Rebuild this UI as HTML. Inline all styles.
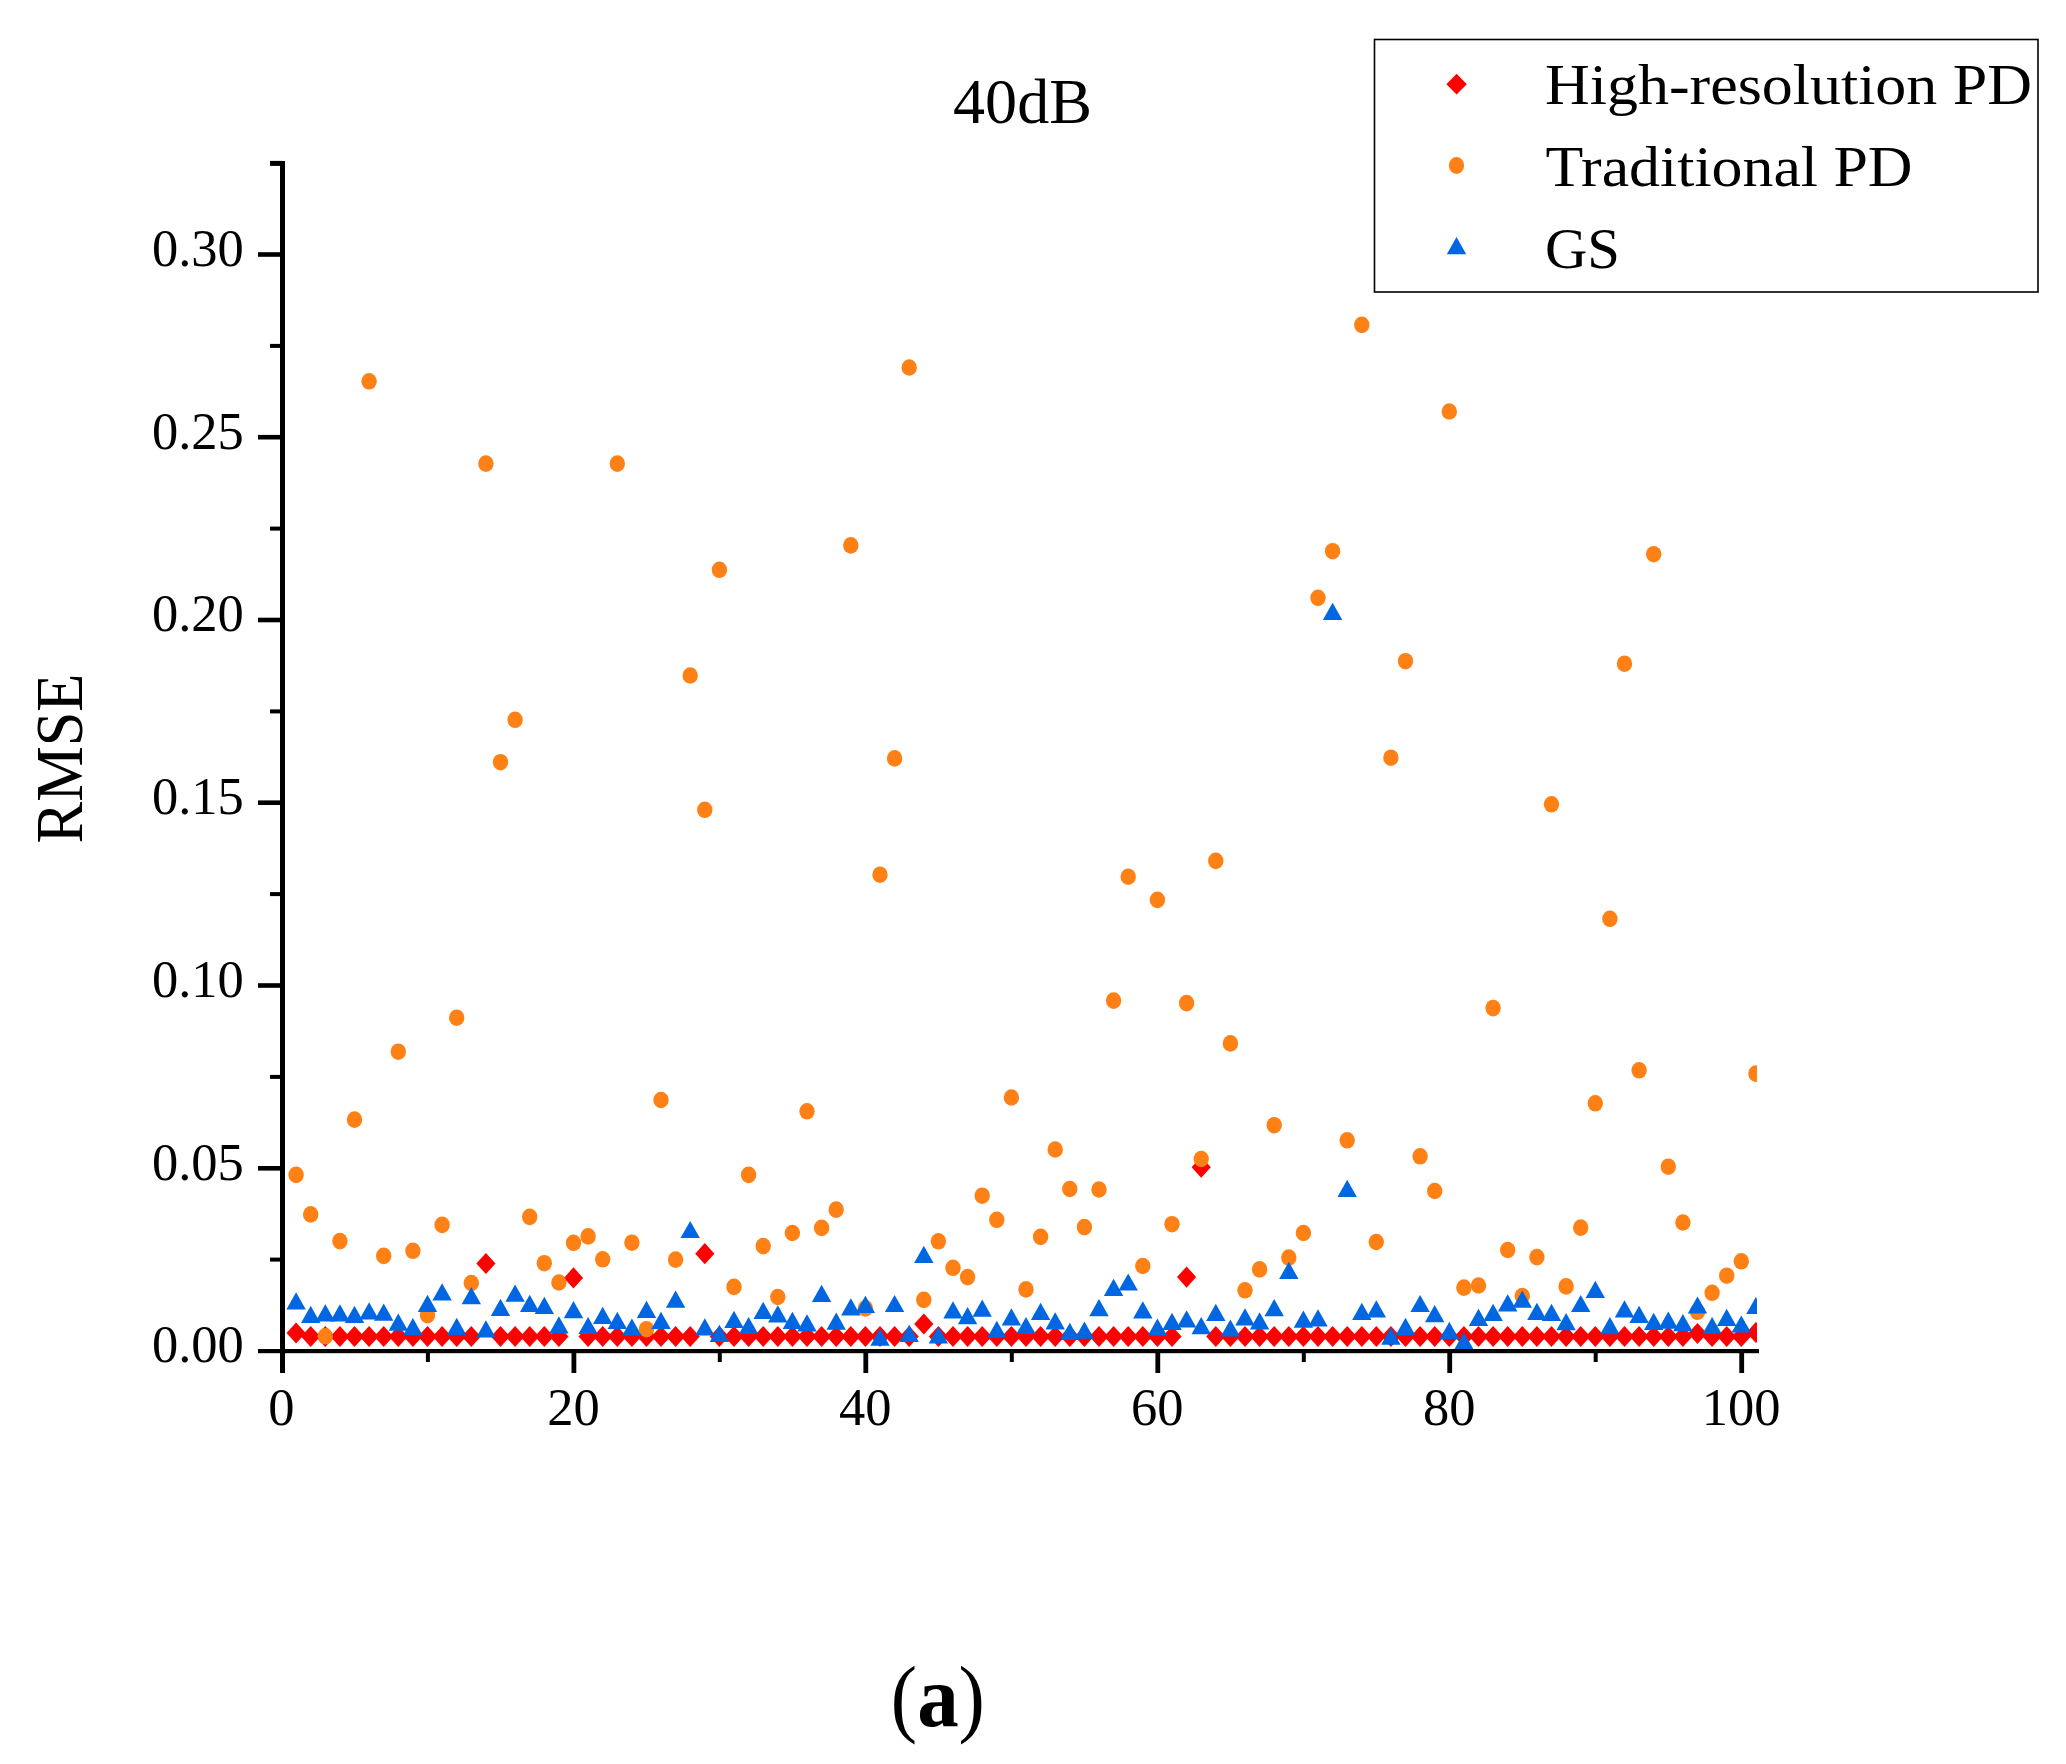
<!DOCTYPE html>
<html lang="en"><head><meta charset="utf-8"><title>40dB RMSE scatter</title>
<style>html,body{margin:0;padding:0;background:#fff}body{width:2066px;height:1764px;overflow:hidden}svg{display:block}text{font-family:"Liberation Serif",serif;fill:#000}</style></head><body>
<svg width="2066" height="1764" viewBox="0 0 2066 1764">
<rect width="2066" height="1764" fill="#fff"/>
<defs><clipPath id="plot"><rect x="282" y="150" width="1475" height="1215"/></clipPath></defs>
<g clip-path="url(#plot)"><g fill="#FF0000">
<path d="M286.5 1333.0L296.1 1322.4L305.7 1333.0L296.1 1343.6Z"/>
<path d="M301.1 1336.5L310.7 1325.9L320.3 1336.5L310.7 1347.1Z"/>
<path d="M315.7 1336.5L325.3 1325.9L334.9 1336.5L325.3 1347.1Z"/>
<path d="M330.3 1336.5L339.9 1325.9L349.5 1336.5L339.9 1347.1Z"/>
<path d="M344.9 1336.5L354.5 1325.9L364.1 1336.5L354.5 1347.1Z"/>
<path d="M359.5 1336.5L369.1 1325.9L378.7 1336.5L369.1 1347.1Z"/>
<path d="M374.1 1336.5L383.7 1325.9L393.3 1336.5L383.7 1347.1Z"/>
<path d="M388.7 1336.5L398.3 1325.9L407.9 1336.5L398.3 1347.1Z"/>
<path d="M403.3 1336.5L412.9 1325.9L422.5 1336.5L412.9 1347.1Z"/>
<path d="M417.9 1336.5L427.5 1325.9L437.1 1336.5L427.5 1347.1Z"/>
<path d="M432.5 1336.5L442.1 1325.9L451.7 1336.5L442.1 1347.1Z"/>
<path d="M447.1 1336.5L456.7 1325.9L466.3 1336.5L456.7 1347.1Z"/>
<path d="M461.7 1336.5L471.3 1325.9L480.9 1336.5L471.3 1347.1Z"/>
<path d="M476.3 1263.5L485.9 1252.9L495.5 1263.5L485.9 1274.1Z"/>
<path d="M490.9 1336.5L500.5 1325.9L510.1 1336.5L500.5 1347.1Z"/>
<path d="M505.5 1336.5L515.1 1325.9L524.7 1336.5L515.1 1347.1Z"/>
<path d="M520.1 1336.5L529.7 1325.9L539.3 1336.5L529.7 1347.1Z"/>
<path d="M534.7 1336.5L544.3 1325.9L553.9 1336.5L544.3 1347.1Z"/>
<path d="M549.3 1336.5L558.9 1325.9L568.5 1336.5L558.9 1347.1Z"/>
<path d="M563.9 1277.9L573.5 1267.3L583.1 1277.9L573.5 1288.5Z"/>
<path d="M578.5 1336.5L588.1 1325.9L597.7 1336.5L588.1 1347.1Z"/>
<path d="M593.1 1336.5L602.7 1325.9L612.3 1336.5L602.7 1347.1Z"/>
<path d="M607.7 1336.5L617.3 1325.9L626.9 1336.5L617.3 1347.1Z"/>
<path d="M622.3 1336.5L631.9 1325.9L641.5 1336.5L631.9 1347.1Z"/>
<path d="M636.9 1336.5L646.5 1325.9L656.1 1336.5L646.5 1347.1Z"/>
<path d="M651.4 1336.5L661.0 1325.9L670.6 1336.5L661.0 1347.1Z"/>
<path d="M666.0 1336.5L675.6 1325.9L685.2 1336.5L675.6 1347.1Z"/>
<path d="M680.6 1336.5L690.2 1325.9L699.8 1336.5L690.2 1347.1Z"/>
<path d="M695.2 1253.7L704.8 1243.1L714.4 1253.7L704.8 1264.3Z"/>
<path d="M709.8 1336.5L719.4 1325.9L729.0 1336.5L719.4 1347.1Z"/>
<path d="M724.4 1336.5L734.0 1325.9L743.6 1336.5L734.0 1347.1Z"/>
<path d="M739.0 1336.5L748.6 1325.9L758.2 1336.5L748.6 1347.1Z"/>
<path d="M753.6 1336.5L763.2 1325.9L772.8 1336.5L763.2 1347.1Z"/>
<path d="M768.2 1336.5L777.8 1325.9L787.4 1336.5L777.8 1347.1Z"/>
<path d="M782.8 1336.5L792.4 1325.9L802.0 1336.5L792.4 1347.1Z"/>
<path d="M797.4 1336.5L807.0 1325.9L816.6 1336.5L807.0 1347.1Z"/>
<path d="M812.0 1336.5L821.6 1325.9L831.2 1336.5L821.6 1347.1Z"/>
<path d="M826.6 1336.5L836.2 1325.9L845.8 1336.5L836.2 1347.1Z"/>
<path d="M841.2 1336.5L850.8 1325.9L860.4 1336.5L850.8 1347.1Z"/>
<path d="M855.8 1336.5L865.4 1325.9L875.0 1336.5L865.4 1347.1Z"/>
<path d="M870.4 1336.5L880.0 1325.9L889.6 1336.5L880.0 1347.1Z"/>
<path d="M885.0 1336.5L894.6 1325.9L904.2 1336.5L894.6 1347.1Z"/>
<path d="M899.6 1336.5L909.2 1325.9L918.8 1336.5L909.2 1347.1Z"/>
<path d="M914.2 1324.0L923.8 1313.4L933.4 1324.0L923.8 1334.6Z"/>
<path d="M928.8 1336.5L938.4 1325.9L948.0 1336.5L938.4 1347.1Z"/>
<path d="M943.4 1336.5L953.0 1325.9L962.6 1336.5L953.0 1347.1Z"/>
<path d="M958.0 1336.5L967.6 1325.9L977.2 1336.5L967.6 1347.1Z"/>
<path d="M972.6 1336.5L982.2 1325.9L991.8 1336.5L982.2 1347.1Z"/>
<path d="M987.2 1336.5L996.8 1325.9L1006.4 1336.5L996.8 1347.1Z"/>
<path d="M1001.8 1336.5L1011.4 1325.9L1021.0 1336.5L1011.4 1347.1Z"/>
<path d="M1016.4 1336.5L1026.0 1325.9L1035.6 1336.5L1026.0 1347.1Z"/>
<path d="M1031.0 1336.5L1040.6 1325.9L1050.2 1336.5L1040.6 1347.1Z"/>
<path d="M1045.6 1336.5L1055.2 1325.9L1064.8 1336.5L1055.2 1347.1Z"/>
<path d="M1060.2 1336.5L1069.8 1325.9L1079.4 1336.5L1069.8 1347.1Z"/>
<path d="M1074.8 1336.5L1084.4 1325.9L1094.0 1336.5L1084.4 1347.1Z"/>
<path d="M1089.4 1336.5L1099.0 1325.9L1108.6 1336.5L1099.0 1347.1Z"/>
<path d="M1104.0 1336.5L1113.6 1325.9L1123.2 1336.5L1113.6 1347.1Z"/>
<path d="M1118.6 1336.5L1128.2 1325.9L1137.8 1336.5L1128.2 1347.1Z"/>
<path d="M1133.2 1336.5L1142.8 1325.9L1152.4 1336.5L1142.8 1347.1Z"/>
<path d="M1147.8 1336.5L1157.4 1325.9L1167.0 1336.5L1157.4 1347.1Z"/>
<path d="M1162.4 1336.5L1172.0 1325.9L1181.6 1336.5L1172.0 1347.1Z"/>
<path d="M1177.0 1277.1L1186.6 1266.5L1196.2 1277.1L1186.6 1287.7Z"/>
<path d="M1191.6 1167.2L1201.2 1156.6L1210.8 1167.2L1201.2 1177.8Z"/>
<path d="M1206.2 1336.5L1215.8 1325.9L1225.4 1336.5L1215.8 1347.1Z"/>
<path d="M1220.8 1336.5L1230.4 1325.9L1240.0 1336.5L1230.4 1347.1Z"/>
<path d="M1235.4 1336.5L1245.0 1325.9L1254.6 1336.5L1245.0 1347.1Z"/>
<path d="M1250.0 1336.5L1259.6 1325.9L1269.2 1336.5L1259.6 1347.1Z"/>
<path d="M1264.6 1336.5L1274.2 1325.9L1283.8 1336.5L1274.2 1347.1Z"/>
<path d="M1279.2 1336.5L1288.8 1325.9L1298.4 1336.5L1288.8 1347.1Z"/>
<path d="M1293.8 1336.5L1303.4 1325.9L1313.0 1336.5L1303.4 1347.1Z"/>
<path d="M1308.4 1336.5L1318.0 1325.9L1327.6 1336.5L1318.0 1347.1Z"/>
<path d="M1323.0 1336.5L1332.6 1325.9L1342.2 1336.5L1332.6 1347.1Z"/>
<path d="M1337.6 1336.5L1347.2 1325.9L1356.8 1336.5L1347.2 1347.1Z"/>
<path d="M1352.2 1336.5L1361.8 1325.9L1371.4 1336.5L1361.8 1347.1Z"/>
<path d="M1366.8 1336.5L1376.3 1325.9L1385.9 1336.5L1376.3 1347.1Z"/>
<path d="M1381.3 1336.5L1390.9 1325.9L1400.5 1336.5L1390.9 1347.1Z"/>
<path d="M1395.9 1336.5L1405.5 1325.9L1415.1 1336.5L1405.5 1347.1Z"/>
<path d="M1410.5 1336.5L1420.1 1325.9L1429.7 1336.5L1420.1 1347.1Z"/>
<path d="M1425.1 1336.5L1434.7 1325.9L1444.3 1336.5L1434.7 1347.1Z"/>
<path d="M1439.7 1336.5L1449.3 1325.9L1458.9 1336.5L1449.3 1347.1Z"/>
<path d="M1454.3 1336.5L1463.9 1325.9L1473.5 1336.5L1463.9 1347.1Z"/>
<path d="M1468.9 1336.5L1478.5 1325.9L1488.1 1336.5L1478.5 1347.1Z"/>
<path d="M1483.5 1336.5L1493.1 1325.9L1502.7 1336.5L1493.1 1347.1Z"/>
<path d="M1498.1 1336.5L1507.7 1325.9L1517.3 1336.5L1507.7 1347.1Z"/>
<path d="M1512.7 1336.5L1522.3 1325.9L1531.9 1336.5L1522.3 1347.1Z"/>
<path d="M1527.3 1336.5L1536.9 1325.9L1546.5 1336.5L1536.9 1347.1Z"/>
<path d="M1541.9 1336.5L1551.5 1325.9L1561.1 1336.5L1551.5 1347.1Z"/>
<path d="M1556.5 1336.5L1566.1 1325.9L1575.7 1336.5L1566.1 1347.1Z"/>
<path d="M1571.1 1336.5L1580.7 1325.9L1590.3 1336.5L1580.7 1347.1Z"/>
<path d="M1585.7 1336.5L1595.3 1325.9L1604.9 1336.5L1595.3 1347.1Z"/>
<path d="M1600.3 1336.5L1609.9 1325.9L1619.5 1336.5L1609.9 1347.1Z"/>
<path d="M1614.9 1336.5L1624.5 1325.9L1634.1 1336.5L1624.5 1347.1Z"/>
<path d="M1629.5 1336.5L1639.1 1325.9L1648.7 1336.5L1639.1 1347.1Z"/>
<path d="M1644.1 1336.5L1653.7 1325.9L1663.3 1336.5L1653.7 1347.1Z"/>
<path d="M1658.7 1336.5L1668.3 1325.9L1677.9 1336.5L1668.3 1347.1Z"/>
<path d="M1673.3 1336.5L1682.9 1325.9L1692.5 1336.5L1682.9 1347.1Z"/>
<path d="M1687.9 1333.5L1697.5 1322.9L1707.1 1333.5L1697.5 1344.1Z"/>
<path d="M1702.5 1336.5L1712.1 1325.9L1721.7 1336.5L1712.1 1347.1Z"/>
<path d="M1717.1 1336.5L1726.7 1325.9L1736.3 1336.5L1726.7 1347.1Z"/>
<path d="M1731.7 1336.5L1741.3 1325.9L1750.9 1336.5L1741.3 1347.1Z"/>
<path d="M1746.3 1332.5L1755.9 1321.9L1765.5 1332.5L1755.9 1343.1Z"/>
</g><g fill="#FF8014">
<ellipse cx="296.1" cy="1174.9" rx="7.7" ry="8.3"/>
<ellipse cx="310.7" cy="1214.4" rx="7.7" ry="8.3"/>
<ellipse cx="325.3" cy="1336.3" rx="7.7" ry="8.3"/>
<ellipse cx="339.9" cy="1241.1" rx="7.7" ry="8.3"/>
<ellipse cx="354.5" cy="1119.6" rx="7.7" ry="8.3"/>
<ellipse cx="369.1" cy="381.3" rx="7.7" ry="8.3"/>
<ellipse cx="383.7" cy="1255.9" rx="7.7" ry="8.3"/>
<ellipse cx="398.3" cy="1051.7" rx="7.7" ry="8.3"/>
<ellipse cx="412.9" cy="1250.8" rx="7.7" ry="8.3"/>
<ellipse cx="427.5" cy="1315.2" rx="7.7" ry="8.3"/>
<ellipse cx="442.1" cy="1224.9" rx="7.7" ry="8.3"/>
<ellipse cx="456.7" cy="1017.7" rx="7.7" ry="8.3"/>
<ellipse cx="471.3" cy="1283.0" rx="7.7" ry="8.3"/>
<ellipse cx="485.9" cy="463.6" rx="7.7" ry="8.3"/>
<ellipse cx="500.5" cy="762.2" rx="7.7" ry="8.3"/>
<ellipse cx="515.1" cy="719.8" rx="7.7" ry="8.3"/>
<ellipse cx="529.7" cy="1216.9" rx="7.7" ry="8.3"/>
<ellipse cx="544.3" cy="1263.2" rx="7.7" ry="8.3"/>
<ellipse cx="558.9" cy="1282.5" rx="7.7" ry="8.3"/>
<ellipse cx="573.5" cy="1242.8" rx="7.7" ry="8.3"/>
<ellipse cx="588.1" cy="1236.4" rx="7.7" ry="8.3"/>
<ellipse cx="602.7" cy="1259.3" rx="7.7" ry="8.3"/>
<ellipse cx="617.3" cy="463.6" rx="7.7" ry="8.3"/>
<ellipse cx="631.9" cy="1242.7" rx="7.7" ry="8.3"/>
<ellipse cx="646.5" cy="1329.2" rx="7.7" ry="8.3"/>
<ellipse cx="661.0" cy="1100.0" rx="7.7" ry="8.3"/>
<ellipse cx="675.6" cy="1259.6" rx="7.7" ry="8.3"/>
<ellipse cx="690.2" cy="675.5" rx="7.7" ry="8.3"/>
<ellipse cx="704.8" cy="809.8" rx="7.7" ry="8.3"/>
<ellipse cx="719.4" cy="569.8" rx="7.7" ry="8.3"/>
<ellipse cx="734.0" cy="1286.9" rx="7.7" ry="8.3"/>
<ellipse cx="748.6" cy="1174.9" rx="7.7" ry="8.3"/>
<ellipse cx="763.2" cy="1246.1" rx="7.7" ry="8.3"/>
<ellipse cx="777.8" cy="1297.0" rx="7.7" ry="8.3"/>
<ellipse cx="792.4" cy="1233.0" rx="7.7" ry="8.3"/>
<ellipse cx="807.0" cy="1111.3" rx="7.7" ry="8.3"/>
<ellipse cx="821.6" cy="1227.9" rx="7.7" ry="8.3"/>
<ellipse cx="836.2" cy="1209.6" rx="7.7" ry="8.3"/>
<ellipse cx="850.8" cy="545.4" rx="7.7" ry="8.3"/>
<ellipse cx="865.4" cy="1308.4" rx="7.7" ry="8.3"/>
<ellipse cx="880.0" cy="874.7" rx="7.7" ry="8.3"/>
<ellipse cx="894.6" cy="758.4" rx="7.7" ry="8.3"/>
<ellipse cx="909.2" cy="367.5" rx="7.7" ry="8.3"/>
<ellipse cx="923.8" cy="1299.9" rx="7.7" ry="8.3"/>
<ellipse cx="938.4" cy="1241.3" rx="7.7" ry="8.3"/>
<ellipse cx="953.0" cy="1267.8" rx="7.7" ry="8.3"/>
<ellipse cx="967.6" cy="1277.1" rx="7.7" ry="8.3"/>
<ellipse cx="982.2" cy="1195.7" rx="7.7" ry="8.3"/>
<ellipse cx="996.8" cy="1219.8" rx="7.7" ry="8.3"/>
<ellipse cx="1011.4" cy="1097.5" rx="7.7" ry="8.3"/>
<ellipse cx="1026.0" cy="1289.4" rx="7.7" ry="8.3"/>
<ellipse cx="1040.6" cy="1236.9" rx="7.7" ry="8.3"/>
<ellipse cx="1055.2" cy="1149.5" rx="7.7" ry="8.3"/>
<ellipse cx="1069.8" cy="1189.0" rx="7.7" ry="8.3"/>
<ellipse cx="1084.4" cy="1227.1" rx="7.7" ry="8.3"/>
<ellipse cx="1099.0" cy="1189.5" rx="7.7" ry="8.3"/>
<ellipse cx="1113.6" cy="1000.6" rx="7.7" ry="8.3"/>
<ellipse cx="1128.2" cy="876.7" rx="7.7" ry="8.3"/>
<ellipse cx="1142.8" cy="1266.0" rx="7.7" ry="8.3"/>
<ellipse cx="1157.4" cy="899.9" rx="7.7" ry="8.3"/>
<ellipse cx="1172.0" cy="1224.2" rx="7.7" ry="8.3"/>
<ellipse cx="1186.6" cy="1003.1" rx="7.7" ry="8.3"/>
<ellipse cx="1201.2" cy="1159.0" rx="7.7" ry="8.3"/>
<ellipse cx="1215.8" cy="860.9" rx="7.7" ry="8.3"/>
<ellipse cx="1230.4" cy="1043.4" rx="7.7" ry="8.3"/>
<ellipse cx="1245.0" cy="1290.3" rx="7.7" ry="8.3"/>
<ellipse cx="1259.6" cy="1269.4" rx="7.7" ry="8.3"/>
<ellipse cx="1274.2" cy="1125.2" rx="7.7" ry="8.3"/>
<ellipse cx="1288.8" cy="1257.6" rx="7.7" ry="8.3"/>
<ellipse cx="1303.4" cy="1233.0" rx="7.7" ry="8.3"/>
<ellipse cx="1318.0" cy="597.8" rx="7.7" ry="8.3"/>
<ellipse cx="1332.6" cy="551.2" rx="7.7" ry="8.3"/>
<ellipse cx="1347.2" cy="1140.3" rx="7.7" ry="8.3"/>
<ellipse cx="1361.8" cy="324.9" rx="7.7" ry="8.3"/>
<ellipse cx="1376.3" cy="1242.0" rx="7.7" ry="8.3"/>
<ellipse cx="1390.9" cy="757.7" rx="7.7" ry="8.3"/>
<ellipse cx="1405.5" cy="661.2" rx="7.7" ry="8.3"/>
<ellipse cx="1420.1" cy="1156.3" rx="7.7" ry="8.3"/>
<ellipse cx="1434.7" cy="1191.0" rx="7.7" ry="8.3"/>
<ellipse cx="1449.3" cy="411.5" rx="7.7" ry="8.3"/>
<ellipse cx="1463.9" cy="1287.6" rx="7.7" ry="8.3"/>
<ellipse cx="1478.5" cy="1285.5" rx="7.7" ry="8.3"/>
<ellipse cx="1493.1" cy="1008.1" rx="7.7" ry="8.3"/>
<ellipse cx="1507.7" cy="1250.0" rx="7.7" ry="8.3"/>
<ellipse cx="1522.3" cy="1296.0" rx="7.7" ry="8.3"/>
<ellipse cx="1536.9" cy="1257.1" rx="7.7" ry="8.3"/>
<ellipse cx="1551.5" cy="804.3" rx="7.7" ry="8.3"/>
<ellipse cx="1566.1" cy="1286.4" rx="7.7" ry="8.3"/>
<ellipse cx="1580.7" cy="1227.6" rx="7.7" ry="8.3"/>
<ellipse cx="1595.3" cy="1103.3" rx="7.7" ry="8.3"/>
<ellipse cx="1609.9" cy="918.8" rx="7.7" ry="8.3"/>
<ellipse cx="1624.5" cy="663.7" rx="7.7" ry="8.3"/>
<ellipse cx="1639.1" cy="1070.3" rx="7.7" ry="8.3"/>
<ellipse cx="1653.7" cy="554.2" rx="7.7" ry="8.3"/>
<ellipse cx="1668.3" cy="1166.7" rx="7.7" ry="8.3"/>
<ellipse cx="1682.9" cy="1222.5" rx="7.7" ry="8.3"/>
<ellipse cx="1697.5" cy="1311.8" rx="7.7" ry="8.3"/>
<ellipse cx="1712.1" cy="1292.8" rx="7.7" ry="8.3"/>
<ellipse cx="1726.7" cy="1275.7" rx="7.7" ry="8.3"/>
<ellipse cx="1741.3" cy="1261.3" rx="7.7" ry="8.3"/>
<ellipse cx="1755.9" cy="1073.6" rx="7.7" ry="8.3"/>
</g><g fill="#0066E2">
<path d="M286.4 1309.4L296.1 1292.2L305.8 1309.4Z"/>
<path d="M301.0 1322.9L310.7 1305.7L320.4 1322.9Z"/>
<path d="M315.6 1321.4L325.3 1304.2L335.0 1321.4Z"/>
<path d="M330.2 1321.4L339.9 1304.2L349.6 1321.4Z"/>
<path d="M344.8 1322.9L354.5 1305.7L364.2 1322.9Z"/>
<path d="M359.4 1319.4L369.1 1302.2L378.8 1319.4Z"/>
<path d="M374.0 1320.7L383.7 1303.5L393.4 1320.7Z"/>
<path d="M388.6 1330.7L398.3 1313.5L408.0 1330.7Z"/>
<path d="M403.2 1335.3L412.9 1318.1L422.6 1335.3Z"/>
<path d="M417.8 1311.9L427.5 1294.7L437.2 1311.9Z"/>
<path d="M432.4 1300.4L442.1 1283.2L451.8 1300.4Z"/>
<path d="M447.0 1335.0L456.7 1317.8L466.4 1335.0Z"/>
<path d="M461.6 1304.3L471.3 1287.1L481.0 1304.3Z"/>
<path d="M476.2 1337.5L485.9 1320.3L495.6 1337.5Z"/>
<path d="M490.8 1316.0L500.5 1298.8L510.2 1316.0Z"/>
<path d="M505.4 1301.7L515.1 1284.5L524.8 1301.7Z"/>
<path d="M520.0 1311.9L529.7 1294.7L539.4 1311.9Z"/>
<path d="M534.6 1313.9L544.3 1296.7L554.0 1313.9Z"/>
<path d="M549.2 1333.4L558.9 1316.2L568.6 1333.4Z"/>
<path d="M563.8 1318.2L573.5 1301.0L583.2 1318.2Z"/>
<path d="M578.4 1334.1L588.1 1316.9L597.8 1334.1Z"/>
<path d="M593.0 1323.9L602.7 1306.7L612.4 1323.9Z"/>
<path d="M607.6 1328.9L617.3 1311.7L627.0 1328.9Z"/>
<path d="M622.2 1335.6L631.9 1318.4L641.6 1335.6Z"/>
<path d="M636.8 1318.0L646.5 1300.8L656.2 1318.0Z"/>
<path d="M651.3 1329.0L661.0 1311.8L670.7 1329.0Z"/>
<path d="M665.9 1307.8L675.6 1290.6L685.3 1307.8Z"/>
<path d="M680.5 1238.1L690.2 1220.9L699.9 1238.1Z"/>
<path d="M695.1 1335.5L704.8 1318.3L714.5 1335.5Z"/>
<path d="M709.7 1341.9L719.4 1324.7L729.1 1341.9Z"/>
<path d="M724.3 1328.0L734.0 1310.8L743.7 1328.0Z"/>
<path d="M738.9 1334.1L748.6 1316.9L758.3 1334.1Z"/>
<path d="M753.5 1318.9L763.2 1301.7L772.9 1318.9Z"/>
<path d="M768.1 1322.4L777.8 1305.2L787.5 1322.4Z"/>
<path d="M782.7 1329.0L792.4 1311.8L802.1 1329.0Z"/>
<path d="M797.3 1331.4L807.0 1314.2L816.7 1331.4Z"/>
<path d="M811.9 1301.9L821.6 1284.7L831.3 1301.9Z"/>
<path d="M826.5 1329.7L836.2 1312.5L845.9 1329.7Z"/>
<path d="M841.1 1315.5L850.8 1298.3L860.5 1315.5Z"/>
<path d="M855.7 1312.9L865.4 1295.7L875.1 1312.9Z"/>
<path d="M870.3 1345.8L880.0 1328.6L889.7 1345.8Z"/>
<path d="M884.9 1312.1L894.6 1294.9L904.3 1312.1Z"/>
<path d="M899.5 1341.9L909.2 1324.7L918.9 1341.9Z"/>
<path d="M914.1 1263.0L923.8 1245.8L933.5 1263.0Z"/>
<path d="M928.7 1343.6L938.4 1326.4L948.1 1343.6Z"/>
<path d="M943.3 1318.4L953.0 1301.2L962.7 1318.4Z"/>
<path d="M957.9 1324.3L967.6 1307.1L977.3 1324.3Z"/>
<path d="M972.5 1316.8L982.2 1299.6L991.9 1316.8Z"/>
<path d="M987.1 1338.0L996.8 1320.8L1006.5 1338.0Z"/>
<path d="M1001.7 1325.5L1011.4 1308.3L1021.1 1325.5Z"/>
<path d="M1016.3 1334.1L1026.0 1316.9L1035.7 1334.1Z"/>
<path d="M1030.9 1320.0L1040.6 1302.8L1050.3 1320.0Z"/>
<path d="M1045.5 1329.5L1055.2 1312.3L1064.9 1329.5Z"/>
<path d="M1060.1 1339.9L1069.8 1322.7L1079.5 1339.9Z"/>
<path d="M1074.7 1338.7L1084.4 1321.5L1094.1 1338.7Z"/>
<path d="M1089.3 1316.3L1099.0 1299.1L1108.7 1316.3Z"/>
<path d="M1103.9 1296.0L1113.6 1278.8L1123.3 1296.0Z"/>
<path d="M1118.5 1290.6L1128.2 1273.4L1137.9 1290.6Z"/>
<path d="M1133.1 1318.4L1142.8 1301.2L1152.5 1318.4Z"/>
<path d="M1147.7 1335.8L1157.4 1318.6L1167.1 1335.8Z"/>
<path d="M1162.3 1329.9L1172.0 1312.7L1181.7 1329.9Z"/>
<path d="M1176.9 1327.5L1186.6 1310.3L1196.3 1327.5Z"/>
<path d="M1191.5 1334.3L1201.2 1317.1L1210.9 1334.3Z"/>
<path d="M1206.1 1320.9L1215.8 1303.7L1225.5 1320.9Z"/>
<path d="M1220.7 1336.6L1230.4 1319.4L1240.1 1336.6Z"/>
<path d="M1235.3 1325.5L1245.0 1308.3L1254.7 1325.5Z"/>
<path d="M1249.9 1329.5L1259.6 1312.3L1269.3 1329.5Z"/>
<path d="M1264.5 1316.3L1274.2 1299.1L1283.9 1316.3Z"/>
<path d="M1279.1 1279.0L1288.8 1261.8L1298.5 1279.0Z"/>
<path d="M1293.7 1327.8L1303.4 1310.6L1313.1 1327.8Z"/>
<path d="M1308.3 1326.5L1318.0 1309.3L1327.7 1326.5Z"/>
<path d="M1322.9 620.0L1332.6 602.8L1342.3 620.0Z"/>
<path d="M1337.5 1196.9L1347.2 1179.7L1356.9 1196.9Z"/>
<path d="M1352.1 1320.0L1361.8 1302.8L1371.5 1320.0Z"/>
<path d="M1366.6 1317.5L1376.3 1300.3L1386.0 1317.5Z"/>
<path d="M1381.2 1344.8L1390.9 1327.6L1400.6 1344.8Z"/>
<path d="M1395.8 1335.0L1405.5 1317.8L1415.2 1335.0Z"/>
<path d="M1410.4 1312.1L1420.1 1294.9L1429.8 1312.1Z"/>
<path d="M1425.0 1322.2L1434.7 1305.0L1444.4 1322.2Z"/>
<path d="M1439.6 1339.0L1449.3 1321.8L1459.0 1339.0Z"/>
<path d="M1454.2 1349.5L1463.9 1332.3L1473.6 1349.5Z"/>
<path d="M1468.8 1326.0L1478.5 1308.8L1488.2 1326.0Z"/>
<path d="M1483.4 1320.9L1493.1 1303.7L1502.8 1320.9Z"/>
<path d="M1498.0 1311.4L1507.7 1294.2L1517.4 1311.4Z"/>
<path d="M1512.6 1307.8L1522.3 1290.6L1532.0 1307.8Z"/>
<path d="M1527.2 1320.0L1536.9 1302.8L1546.6 1320.0Z"/>
<path d="M1541.8 1320.9L1551.5 1303.7L1561.2 1320.9Z"/>
<path d="M1556.4 1330.2L1566.1 1313.0L1575.8 1330.2Z"/>
<path d="M1571.0 1312.1L1580.7 1294.9L1590.4 1312.1Z"/>
<path d="M1585.6 1298.0L1595.3 1280.8L1605.0 1298.0Z"/>
<path d="M1600.2 1334.3L1609.9 1317.1L1619.6 1334.3Z"/>
<path d="M1614.8 1317.5L1624.5 1300.3L1634.2 1317.5Z"/>
<path d="M1629.4 1322.9L1639.1 1305.7L1648.8 1322.9Z"/>
<path d="M1644.0 1329.9L1653.7 1312.7L1663.4 1329.9Z"/>
<path d="M1658.6 1328.7L1668.3 1311.5L1678.0 1328.7Z"/>
<path d="M1673.2 1331.2L1682.9 1314.0L1692.6 1331.2Z"/>
<path d="M1687.8 1313.6L1697.5 1296.4L1707.2 1313.6Z"/>
<path d="M1702.4 1334.1L1712.1 1316.9L1721.8 1334.1Z"/>
<path d="M1717.0 1326.0L1726.7 1308.8L1736.4 1326.0Z"/>
<path d="M1731.6 1332.6L1741.3 1315.4L1751.0 1332.6Z"/>
<path d="M1746.2 1314.1L1755.9 1296.9L1765.6 1314.1Z"/>
</g></g>
<g fill="#000">
<rect x="280" y="161" width="5" height="1212"/>
<rect x="258" y="1349" width="1501" height="4.2"/>
<rect x="270" y="1257.6" width="12" height="4.0"/>
<rect x="258" y="1166.0" width="24" height="4.6"/>
<rect x="270" y="1074.9" width="12" height="4.0"/>
<rect x="258" y="983.2" width="24" height="4.6"/>
<rect x="270" y="892.1" width="12" height="4.0"/>
<rect x="258" y="800.4" width="24" height="4.6"/>
<rect x="270" y="709.4" width="12" height="4.0"/>
<rect x="258" y="617.7" width="24" height="4.6"/>
<rect x="270" y="526.6" width="12" height="4.0"/>
<rect x="258" y="434.9" width="24" height="4.6"/>
<rect x="270" y="343.9" width="12" height="4.0"/>
<rect x="258" y="252.2" width="24" height="4.6"/>
<rect x="270" y="160.9" width="12" height="5"/>
<rect x="425.9" y="1351" width="4" height="11"/>
<rect x="571.5" y="1351" width="4.8" height="22"/>
<rect x="717.8" y="1351" width="4" height="11"/>
<rect x="863.4" y="1351" width="4.8" height="22"/>
<rect x="1009.8" y="1351" width="4" height="11"/>
<rect x="1155.4" y="1351" width="4.8" height="22"/>
<rect x="1301.8" y="1351" width="4" height="11"/>
<rect x="1447.3" y="1351" width="4.8" height="22"/>
<rect x="1593.7" y="1351" width="4" height="11"/>
<rect x="1739.3" y="1351" width="4.8" height="22"/>
</g>
<g font-size="52.5">
<text x="243.8" y="1362.3" text-anchor="end">0.00</text>
<text x="243.8" y="1179.5" text-anchor="end">0.05</text>
<text x="243.8" y="996.8" text-anchor="end">0.10</text>
<text x="243.8" y="814.0" text-anchor="end">0.15</text>
<text x="243.8" y="631.3" text-anchor="end">0.20</text>
<text x="243.8" y="448.6" text-anchor="end">0.25</text>
<text x="243.8" y="265.8" text-anchor="end">0.30</text>
<text x="281.4" y="1425.3" text-anchor="middle">0</text>
<text x="573.4" y="1425.3" text-anchor="middle">20</text>
<text x="865.3" y="1425.3" text-anchor="middle">40</text>
<text x="1157.3" y="1425.3" text-anchor="middle">60</text>
<text x="1449.2" y="1425.3" text-anchor="middle">80</text>
<text x="1741.2" y="1425.3" text-anchor="middle">100</text>
</g>
<text x="953" y="123" font-size="64" textLength="139" lengthAdjust="spacingAndGlyphs">40dB</text>
<text transform="translate(82.3 843.5) rotate(-90)" font-size="67.5" textLength="170" lengthAdjust="spacingAndGlyphs">RMSE</text>
<rect x="1374.5" y="39.5" width="663.5" height="252.5" fill="#fff" stroke="#000" stroke-width="1.6"/>
<g fill="#FF0000"><path d="M1446.4 84.2L1456.6 73.8L1466.8 84.2L1456.6 94.6Z"/></g>
<g fill="#FF8014"><ellipse cx="1456.5" cy="165.5" rx="7.6" ry="8.4"/></g>
<g fill="#0066E2"><path d="M1446.8 254.2L1456.5 237.0L1466.2 254.2Z"/></g>
<g font-size="56.5">
<text x="1545" y="104.2" textLength="487" lengthAdjust="spacingAndGlyphs">High-resolution PD</text>
<text x="1545.5" y="186.4" textLength="367" lengthAdjust="spacingAndGlyphs">Traditional PD</text>
<text x="1545" y="267.8" textLength="75" lengthAdjust="spacingAndGlyphs">GS</text>
</g>
<text y="1725.8" font-size="88"><tspan x="890.8" font-size="87" textLength="26.3" lengthAdjust="spacingAndGlyphs">(</tspan><tspan x="917.3" font-weight="bold" font-size="88" textLength="41.5" lengthAdjust="spacingAndGlyphs">a</tspan><tspan x="958.6" font-size="87" textLength="26.3" lengthAdjust="spacingAndGlyphs">)</tspan></text>
</svg></body></html>
